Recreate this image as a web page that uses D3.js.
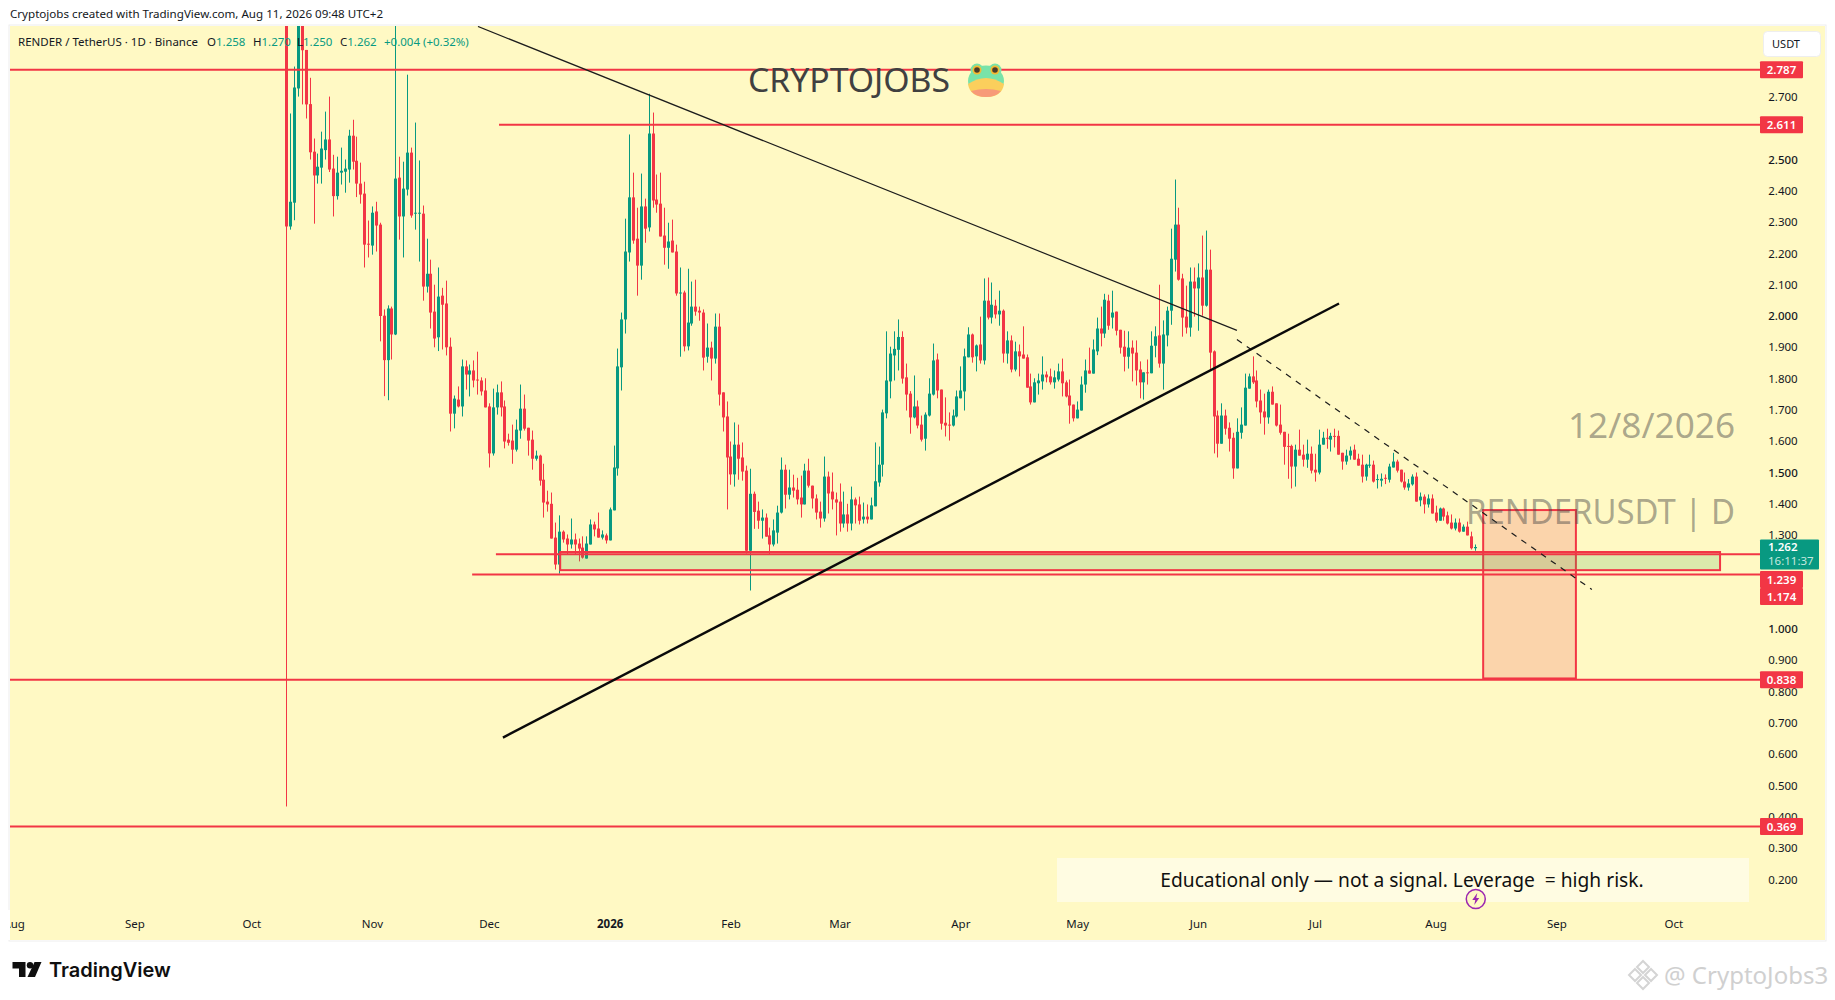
<!DOCTYPE html>
<html>
<head>
<meta charset="utf-8">
<script src="https://cdn.jsdelivr.net/npm/d3@7"></script>
<style>
  html, body { margin: 0; padding: 0; background: #fff; overflow: hidden; }
  text { font-family: "Noto Sans", sans-serif; }
</style>
</head>
<body>
<div id="chart"></div>
<script>
// daily candles, Oct 10 2025 -> Aug 11 2026
const opens = [
  3.30,2.286,2.362,2.727,3.10,2.85,2.677,2.525,2.449,2.474,
  2.530,2.564,2.471,2.383,2.458,2.461,2.468,2.576,2.496,2.423,
  2.391,2.231,2.225,2.334,2.292,2.001,1.859,2.024,1.941,2.442,
  2.318,2.404,2.522,2.327,2.327,2.327,2.094,2.135,2.014,1.932,
  2.065,2.04,1.902,1.688,1.733,1.711,1.839,1.813,1.826,1.797,
  1.794,1.762,1.711,1.561,1.708,1.756,1.711,1.605,1.602,1.573,
  1.634,1.704,1.643,1.605,1.544,1.554,1.477,1.407,1.400,1.292,
  1.206,1.311,1.289,1.270,1.286,1.273,1.260,1.225,1.270,1.334,
  1.321,1.292,1.299,1.283,1.379,1.513,1.836,1.989,2.203,2.379,
  2.247,2.161,2.350,2.283,2.583,2.372,2.359,2.257,2.218,2.241,
  2.206,2.072,2.075,1.903,1.976,2.030,2.017,2.011,1.870,1.899,
  1.864,1.966,1.756,1.679,1.551,1.494,1.589,1.548,1.506,1.250,
  1.432,1.378,1.346,1.356,1.299,1.270,1.308,1.372,1.509,1.429,
  1.452,1.445,1.420,1.398,1.506,1.458,1.417,1.375,1.353,1.487,
  1.439,1.414,1.407,1.337,1.366,1.337,1.414,1.398,1.350,1.359,
  1.350,1.392,1.468,1.525,1.689,1.791,1.874,1.892,1.933,1.804,
  1.752,1.676,1.711,1.653,1.608,1.682,1.749,1.861,1.765,1.659,
  1.653,1.650,1.679,1.737,1.759,1.868,1.941,1.871,1.909,1.858,
  2.049,1.995,2.033,2.005,2.017,1.880,1.922,1.829,1.887,1.877,
  1.868,1.775,1.724,1.785,1.791,1.813,1.807,1.788,1.797,1.823,
  1.788,1.746,1.717,1.673,1.698,1.781,1.826,1.816,1.887,1.960,
  1.944,2.049,1.995,2.014,1.956,1.902,1.870,1.899,1.883,1.829,
  1.788,1.820,1.817,1.905,1.938,1.848,1.938,2.017,2.180,2.292,
  2.120,1.998,1.963,2.110,2.088,2.123,2.033,2.148,1.887,1.682,
  1.592,1.682,1.643,1.611,1.513,1.627,1.650,1.768,1.807,1.794,
  1.730,1.695,1.676,1.758,1.721,1.653,1.630,1.585,1.585,1.519,
  1.573,1.557,1.541,1.560,1.509,1.500,1.589,1.611,1.605,1.617,
  1.617,1.563,1.535,1.554,1.573,1.544,1.525,1.487,1.522,1.525,
  1.476,1.474,1.483,1.477,1.516,1.535,1.509,1.471,1.452,1.462,
  1.487,1.411,1.423,1.398,1.417,1.372,1.346,1.385,1.363,1.340,
  1.321,1.340,1.311,1.327,1.296,1.258
];
const highs = [
  3.32,2.647,2.797,3.15,3.15,2.85,2.761,2.567,2.519,2.589,
  2.653,2.701,2.515,2.509,2.538,2.500,2.595,2.627,2.573,2.490,
  2.429,2.305,2.350,2.365,2.298,2.021,2.034,2.030,3.15,2.509,
  2.493,2.771,2.538,2.618,2.497,2.353,2.247,2.180,2.100,2.155,
  2.09,2.113,1.931,1.746,1.775,1.861,1.858,1.845,1.858,1.886,
  1.804,1.801,1.721,1.768,1.781,1.791,1.730,1.624,1.653,1.669,
  1.781,1.749,1.643,1.634,1.570,1.557,1.528,1.442,1.436,1.340,
  1.363,1.315,1.302,1.353,1.305,1.289,1.296,1.296,1.350,1.343,
  1.372,1.315,1.305,1.388,1.586,1.896,2.011,2.311,2.580,2.458,
  2.346,2.455,2.375,2.710,2.650,2.452,2.458,2.346,2.298,2.308,
  2.228,2.155,2.081,2.151,2.110,2.116,2.030,2.021,1.976,1.918,
  2.008,2.008,1.756,1.727,1.599,1.660,1.653,1.596,1.522,1.512,
  1.439,1.407,1.382,1.369,1.324,1.350,1.394,1.548,1.525,1.509,
  1.493,1.483,1.490,1.528,1.544,1.458,1.430,1.407,1.551,1.503,
  1.500,1.436,1.465,1.439,1.400,1.455,1.420,1.423,1.404,1.398,
  1.420,1.596,1.583,1.701,1.951,1.902,1.951,1.989,1.951,1.848,
  1.760,1.810,1.730,1.682,1.692,1.801,1.912,1.880,1.765,1.740,
  1.692,1.701,1.762,1.839,1.896,1.964,1.944,1.909,1.998,2.120,
  2.123,2.107,2.052,2.081,2.021,1.951,1.938,1.918,1.909,1.967,
  1.877,1.816,1.801,1.816,1.871,1.823,1.832,1.826,1.848,1.864,
  1.794,1.797,1.717,1.727,1.807,1.861,1.899,1.925,1.995,2.030,
  2.071,2.068,2.081,2.014,1.956,1.953,1.951,1.922,1.922,1.855,
  1.820,1.861,1.951,1.967,2.100,1.986,2.030,2.279,2.436,2.346,
  2.135,2.097,2.155,2.155,2.168,2.257,2.273,2.212,1.890,1.698,
  1.721,1.701,1.660,1.627,1.673,1.708,1.816,1.816,1.871,1.826,
  1.765,1.752,1.765,1.775,1.721,1.717,1.630,1.624,1.589,1.589,
  1.637,1.589,1.605,1.583,1.560,1.637,1.630,1.640,1.627,1.640,
  1.634,1.563,1.573,1.583,1.589,1.560,1.557,1.528,1.557,1.538,
  1.494,1.497,1.494,1.528,1.563,1.541,1.509,1.500,1.479,1.494,
  1.500,1.436,1.430,1.430,1.430,1.394,1.388,1.388,1.375,1.366,
  1.353,1.353,1.334,1.343,1.311,1.270
];
const lows = [
  0.433,2.276,2.306,2.701,2.676,2.631,2.500,2.295,2.423,2.423,
  2.500,2.46,2.318,2.372,2.420,2.394,2.426,2.468,2.380,2.359,
  2.155,2.187,2.196,2.206,1.919,1.744,1.731,1.861,1.939,2.244,
  2.187,2.385,2.314,2.276,2.174,2.049,2.075,1.960,1.900,1.888,
  1.893,1.874,1.631,1.641,1.708,1.679,1.765,1.743,1.772,1.749,
  1.746,1.708,1.516,1.554,1.685,1.679,1.577,1.586,1.528,1.567,
  1.608,1.634,1.554,1.509,1.538,1.458,1.356,1.375,1.289,1.190,
  1.177,1.276,1.238,1.257,1.238,1.216,1.225,1.225,1.270,1.296,
  1.292,1.286,1.273,1.283,1.379,1.490,1.762,1.944,2.174,2.231,
  2.065,2.116,2.234,2.270,2.346,2.330,2.254,2.164,2.151,2.203,
  2.065,1.870,1.887,1.890,1.969,2.001,1.985,1.826,1.851,1.794,
  1.848,1.714,1.631,1.382,1.461,1.455,1.477,1.474,1.241,1.123,
  1.320,1.320,1.289,1.295,1.238,1.264,1.273,1.369,1.385,1.414,
  1.420,1.398,1.356,1.398,1.452,1.385,1.350,1.324,1.343,1.369,
  1.382,1.299,1.311,1.324,1.311,1.315,1.337,1.334,1.337,1.337,
  1.350,1.392,1.455,1.487,1.673,1.737,1.794,1.826,1.784,1.698,
  1.624,1.673,1.641,1.599,1.570,1.679,1.746,1.737,1.637,1.615,
  1.602,1.647,1.676,1.737,1.698,1.868,1.851,1.823,1.848,1.845,
  1.989,1.976,1.992,1.969,1.851,1.848,1.820,1.823,1.807,1.864,
  1.771,1.717,1.724,1.749,1.765,1.788,1.781,1.768,1.791,1.743,
  1.740,1.656,1.663,1.673,1.698,1.755,1.816,1.816,1.875,1.903,
  1.93,1.956,1.960,1.938,1.880,1.823,1.832,1.791,1.778,1.737,
  1.733,1.781,1.817,1.868,1.835,1.765,1.903,1.972,2.142,2.113,
  1.934,1.944,1.934,1.998,1.953,2.001,2.030,1.829,1.561,1.548,
  1.592,1.621,1.567,1.480,1.513,1.608,1.650,1.768,1.783,1.708,
  1.656,1.621,1.656,1.717,1.647,1.621,1.525,1.480,1.449,1.455,
  1.554,1.519,1.515,1.497,1.471,1.494,1.589,1.576,1.567,1.58,
  1.557,1.509,1.525,1.541,1.541,1.522,1.468,1.474,1.515,1.468,
  1.449,1.455,1.463,1.468,1.516,1.500,1.468,1.445,1.442,1.458,
  1.407,1.392,1.369,1.388,1.369,1.340,1.346,1.346,1.334,1.318,
  1.315,1.308,1.311,1.299,1.254,1.250
];
const closes = [
  2.286,2.365,2.730,3.10,2.849,2.676,2.523,2.449,2.477,2.535,
  2.564,2.468,2.383,2.458,2.464,2.471,2.576,2.493,2.423,2.388,
  2.228,2.228,2.330,2.289,2.000,1.859,2.024,1.941,2.439,2.318,
  2.407,2.522,2.321,2.330,2.330,2.094,2.135,2.011,1.928,2.062,
  2.036,1.90,1.688,1.736,1.711,1.839,1.813,1.826,1.794,1.794,
  1.759,1.708,1.561,1.708,1.756,1.708,1.599,1.595,1.573,1.637,
  1.704,1.640,1.602,1.544,1.554,1.474,1.404,1.398,1.289,1.206,
  1.311,1.286,1.270,1.286,1.270,1.257,1.228,1.273,1.334,1.318,
  1.292,1.302,1.283,1.382,1.516,1.839,1.989,2.206,2.379,2.241,
  2.161,2.350,2.279,2.583,2.369,2.356,2.254,2.218,2.238,2.203,
  2.072,2.075,1.903,1.979,2.030,2.014,2.011,1.867,1.899,1.864,
  1.966,1.749,1.676,1.548,1.494,1.589,1.544,1.503,1.250,1.432,
  1.374,1.346,1.356,1.295,1.270,1.315,1.372,1.509,1.429,1.452,
  1.442,1.414,1.398,1.506,1.458,1.417,1.372,1.353,1.487,1.433,
  1.414,1.404,1.337,1.366,1.337,1.414,1.395,1.346,1.359,1.350,
  1.395,1.472,1.525,1.692,1.794,1.880,1.895,1.933,1.800,1.749,
  1.676,1.711,1.650,1.605,1.685,1.752,1.858,1.762,1.656,1.650,
  1.650,1.682,1.743,1.762,1.871,1.941,1.868,1.906,1.858,2.049,
  1.995,2.036,2.005,2.017,1.880,1.922,1.829,1.887,1.871,1.864,
  1.771,1.724,1.788,1.794,1.813,1.804,1.788,1.804,1.823,1.785,
  1.743,1.714,1.673,1.701,1.781,1.826,1.816,1.893,1.960,1.944,
  2.052,1.969,2.011,1.953,1.899,1.870,1.899,1.880,1.826,1.788,
  1.820,1.817,1.905,1.935,1.848,1.941,2.017,2.183,2.292,2.116,
  1.995,1.963,2.110,2.088,2.123,2.033,2.148,1.883,1.679,1.592,
  1.682,1.640,1.608,1.513,1.630,1.653,1.771,1.807,1.788,1.727,
  1.692,1.676,1.758,1.717,1.650,1.627,1.582,1.582,1.519,1.573,
  1.554,1.541,1.560,1.506,1.500,1.589,1.611,1.608,1.617,1.614,
  1.557,1.535,1.554,1.570,1.541,1.522,1.487,1.525,1.525,1.471,
  1.479,1.480,1.480,1.519,1.535,1.506,1.471,1.452,1.465,1.487,
  1.407,1.423,1.398,1.417,1.369,1.346,1.385,1.359,1.337,1.321,
  1.340,1.311,1.327,1.299,1.258,1.262
];

// time axis: candle index of the first of each month
const monthIdx = [-70,-39,-9,22,52,83,114,142,173,203,234,264,295,326,356];
const monthLabels = ["Aug","Sep","Oct","Nov","Dec","2026","Feb","Mar","Apr","May","Jun","Jul","Aug","Sep","Oct"];
const priceTicks = [2.7,2.5,2.4,2.3,2.2,2.1,2.0,1.9,1.8,1.7,1.6,1.5,1.4,1.3,1.0,0.9,0.8,0.7,0.6,0.5,0.4,0.3,0.2];
const boldTicks = [2.5,2.0,1.5,1.0];

// drawings: horizontal levels with the candle index they start from
const levelPrices = [2.787,2.611,1.239,1.174,0.838,0.369];
const levelStarts = [-71,54.6,53.8,47.7,-71,-71];
const zoneBox = [70.3,368,1.246,1.188];    // x0,x1,top,bottom
const targetBox = [307.2,331,1.380,0.842];
const thinTrend = [[49.2,2.925],[244,1.954]];
const dashTrend = [[244,1.925],[335.1,1.126]];
const thickTrend = [[55.6,0.653],[270.2,2.040]];
const lastPrice = 1.262;

const GREEN = "#089981", RED = "#f23645", BG = "#fff9c4";
const width = 1835, height = 1000;
const plot = { left: 10, right: 1825, top: 26, bottom: 940 };
const candles = d3.range(opens.length).map(i => ({ i, o: opens[i], h: highs[i], l: lows[i], c: closes[i] }));

const x = d3.scaleLinear().domain([0, 305]).range([286.3, 1474.6]);
const y = d3.scaleLinear().domain([3, 0]).range([3, 942]);

const svg = d3.select("#chart").append("svg")
  .attr("width", width).attr("height", height)
  .style("display", "block");

svg.append("clipPath").attr("id", "plotClip").append("rect")
  .attr("x", plot.left).attr("y", plot.top)
  .attr("width", plot.right - plot.left).attr("height", plot.bottom - plot.top);

// header
svg.append("text").attr("x", 10).attr("y", 18)
  .style("font-size", "11.6px").style("fill", "#131722")
  .text("Cryptojobs created with TradingView.com, Aug 11, 2026 09:48 UTC+2");

// panel
svg.append("rect").attr("x", plot.left - 1).attr("y", plot.top - 1)
  .attr("width", plot.right - plot.left + 2).attr("height", plot.bottom - plot.top + 2)
  .attr("fill", "none").attr("stroke", "#eeeeee");
svg.append("rect").attr("x", plot.left).attr("y", plot.top)
  .attr("width", plot.right - plot.left).attr("height", plot.bottom - plot.top)
  .attr("fill", BG);

const chart = svg.append("g").attr("clip-path", "url(#plotClip)");

// target box sits under the candles
chart.append("rect")
  .attr("x", x(targetBox[0])).attr("width", x(targetBox[1]) - x(targetBox[0]))
  .attr("y", y(targetBox[2])).attr("height", y(targetBox[3]) - y(targetBox[2]))
  .attr("fill", "rgba(241,126,113,0.3)").attr("stroke", RED).attr("stroke-width", 2);

// candles
const candleG = chart.append("g");
candleG.selectAll("rect.wick").data(candles).enter().append("rect")
  .attr("class", "wick")
  .attr("x", d => Math.round(x(d.i)))
  .attr("width", 1)
  .attr("y", d => y(d.h))
  .attr("height", d => y(d.l) - y(d.h))
  .attr("fill", d => d.c >= d.o ? GREEN : RED);
candleG.selectAll("rect.body").data(candles).enter().append("rect")
  .attr("class", "body")
  .attr("x", d => Math.round(x(d.i)) - 1)
  .attr("width", 3)
  .attr("y", d => y(Math.max(d.o, d.c)))
  .attr("height", d => Math.max(1, Math.abs(y(d.o) - y(d.c))))
  .attr("fill", d => d.c >= d.o ? GREEN : RED);

// zone
chart.append("rect")
  .attr("x", x(zoneBox[0])).attr("width", x(zoneBox[1]) - x(zoneBox[0]))
  .attr("y", y(zoneBox[2])).attr("height", y(zoneBox[3]) - y(zoneBox[2]))
  .attr("fill", "rgba(76,175,80,0.2)").attr("stroke", RED).attr("stroke-width", 2);

// levels
chart.selectAll("line.level").data(levelPrices).enter().append("line")
  .attr("class", "level")
  .attr("x1", (d, i) => x(levelStarts[i])).attr("x2", 1760)
  .attr("y1", d => y(d)).attr("y2", d => y(d))
  .attr("stroke", RED).attr("stroke-width", 2);

// trend lines
const trendPath = d3.line().x(d => x(d[0])).y(d => y(d[1]));
chart.append("path").attr("d", trendPath(thinTrend))
  .attr("fill", "none").attr("stroke", "#1c1c1c").attr("stroke-width", 1.2);
chart.append("path").attr("d", trendPath(dashTrend))
  .attr("fill", "none").attr("stroke", "#1c1c1c").attr("stroke-width", 1.2)
  .attr("stroke-dasharray", "6 6");
chart.append("path").attr("d", trendPath(thickTrend))
  .attr("fill", "none").attr("stroke", "#0a0a0a").attr("stroke-width", 2.4);

// big drawn texts
chart.append("text").attr("x", 748).attr("y", 92)
  .attr("textLength", 202).attr("lengthAdjust", "spacingAndGlyphs")
  .style("font-size", "33px").style("fill", "#404040")
  .text("CRYPTOJOBS");

const frog = chart.append("g").attr("transform", "translate(986,81)");
frog.append("ellipse").attr("rx", 18).attr("ry", 15.5).attr("fill", "#79e3a8");
frog.append("path").attr("d", "M-18,3 Q0,-9 18,3 Q16,16 0,16 Q-16,16 -18,3Z").attr("fill", "#fbcf5c");
frog.append("path").attr("d", "M-15,10 Q0,6 15,10 Q10,16 0,16 Q-10,16 -15,10Z").attr("fill", "#f79a78");
[-9, 9].forEach(ex => {
  frog.append("circle").attr("cx", ex).attr("cy", -11).attr("r", 6.5).attr("fill", "#79e3a8");
  frog.append("circle").attr("cx", ex).attr("cy", -11).attr("r", 4.5).attr("fill", "#f5b932");
  frog.append("circle").attr("cx", ex).attr("cy", -11).attr("r", 2.8).attr("fill", "#4a3c2a");
});

const stamp = chart.append("g").style("font-size", "34px")
  .style("fill", "rgba(66,66,66,0.45)");
stamp.append("text").attr("x", 1568).attr("y", 438)
  .attr("textLength", 167).attr("lengthAdjust", "spacingAndGlyphs").text("12/8/2026");
stamp.append("text").attr("x", 1466).attr("y", 524)
  .attr("textLength", 269).attr("lengthAdjust", "spacingAndGlyphs").text("RENDERUSDT | D");

// note at the bottom
chart.append("rect").attr("x", 1057).attr("y", 858).attr("width", 692).attr("height", 44).attr("fill", "#fffce2");
chart.append("text").attr("x", 1402).attr("y", 887).attr("text-anchor", "middle")
  .style("font-size", "19.2px").style("fill", "#101010").style("white-space", "pre")
  .text("Educational only — not a signal. Leverage  = high risk.");

// earnings style marker
const marker = svg.append("g").attr("transform", `translate(${x(305.3)},899)`);
marker.append("circle").attr("r", 9.5).attr("fill", BG).attr("stroke", "#9c27b0").attr("stroke-width", 1.5);
marker.append("path").attr("d", "M1.5,-6 L-3.5,1 L-0.5,1 L-1.5,6 L3.5,-1 L0.5,-1Z").attr("fill", "#9c27b0");

// legend row
const legend = svg.append("text").attr("x", 18).attr("y", 46).style("font-size", "11.5px").style("fill", "#131722");
legend.append("tspan").text("RENDER / TetherUS · 1D · Binance");
[["O", "1.258", 207], ["H", "1.270", 253], ["L", "1.250", 297], ["C", "1.262", 340]].forEach(d => {
  legend.append("tspan").attr("x", d[2]).text(d[0]);
  legend.append("tspan").style("fill", GREEN).text(d[1]);
});
legend.append("tspan").attr("x", 384).style("fill", GREEN).text("+0.004 (+0.32%)");

// price scale
const priceAxis = d3.axisRight(y).tickValues(priceTicks).tickFormat(d3.format(".3f")).tickSize(0);
const priceG = svg.append("g").attr("transform", "translate(1783,0)").call(priceAxis);
priceG.select(".domain").remove();
priceG.selectAll("text")
  .attr("x", 0).attr("text-anchor", "middle")
  .style("font-size", "11.5px").style("fill", "#131722")
  .style("font-weight", d => boldTicks.includes(d) ? 500 : 400);

// time scale
const timeAxis = d3.axisBottom(x).tickValues(monthIdx)
  .tickFormat((d, i) => monthLabels[i]).tickSize(0);
const timeG = svg.append("g").attr("transform", "translate(0,920)").call(timeAxis);
timeG.select(".domain").remove();
timeG.selectAll("text")
  .attr("y", 0).attr("dy", "0.71em")
  .style("font-size", "11.5px").style("fill", "#131722")
  .style("font-weight", (d, i) => monthLabels[i] === "2026" ? 700 : 400);
svg.append("rect").attr("x", 0).attr("y", 910).attr("width", plot.left).attr("height", 30).attr("fill", "#fff");

// USDT button
svg.append("rect").attr("x", 1763.5).attr("y", 31.5).attr("width", 57).attr("height", 25).attr("rx", 4)
  .attr("fill", "#fff").attr("stroke", "#eeeeee");
svg.append("text").attr("x", 1786).attr("y", 48).attr("text-anchor", "middle")
  .style("font-size", "11px").style("fill", "#131722").text("USDT");

// price labels, the two close ones get pushed down like TradingView does
const labelCentres = { 1.239: 579.5, 1.174: 596.5 };
const labels = svg.append("g").selectAll("g").data(levelPrices).enter().append("g")
  .attr("transform", d => `translate(1760,${labelCentres[d] || y(d)})`);
labels.append("rect").attr("y", -8.5).attr("width", 43).attr("height", 17).attr("rx", 1).attr("fill", RED);
labels.append("text").attr("x", 21.5).attr("y", 4).attr("text-anchor", "middle")
  .style("font-size", "11.5px").style("font-weight", 600).style("fill", "#fff")
  .text(d => d3.format(".3f")(d));

// last price tag
const tag = svg.append("g").attr("transform", `translate(1760,${y(lastPrice) - 7.5})`);
tag.append("rect").attr("width", 59).attr("height", 30).attr("rx", 1).attr("fill", GREEN);
tag.append("text").attr("x", 8).attr("y", 12).style("font-size", "11.5px").style("font-weight", 600)
  .style("fill", "#fff").text(d3.format(".3f")(lastPrice));
tag.append("text").attr("x", 8).attr("y", 26).style("font-size", "11.5px")
  .style("fill", "#c5e8df").text("16:11:37");

// TradingView logo
const logo = svg.append("g").attr("fill", "#0f0f0f");
logo.append("path").attr("d", "M12.5,962 H25.5 V977 H19 V968.5 H12.5Z");
logo.append("circle").attr("cx", 30).attr("cy", 965.2).attr("r", 3.2);
logo.append("path").attr("d", "M34.5,962 H41.5 L35,977 H27.5Z");
svg.append("text").attr("x", 49).attr("y", 977)
  .style("font-family", "Inter, sans-serif").style("font-size", "20px").style("font-weight", 600)
  .style("fill", "#0f0f0f").text("TradingView");

// watermark
const mark = svg.append("g").attr("transform", "translate(1643,975)").attr("fill", "none").attr("stroke", "#d4d4d4").attr("stroke-width", 2);
mark.append("path").attr("d", "M0,-14 L6,-8 L0,-2 L-6,-8Z");
mark.append("path").attr("d", "M-8,-6 L-2,0 L-8,6 L-14,0Z");
mark.append("path").attr("d", "M8,-6 L14,0 L8,6 L2,0Z");
mark.append("path").attr("d", "M0,2 L6,8 L0,14 L-6,8Z");
svg.append("text").attr("x", 1664).attr("y", 984)
  .style("font-size", "24px").style("fill", "#d0d0d0").text("@ CryptoJobs3");
</script>
</body>
</html>
